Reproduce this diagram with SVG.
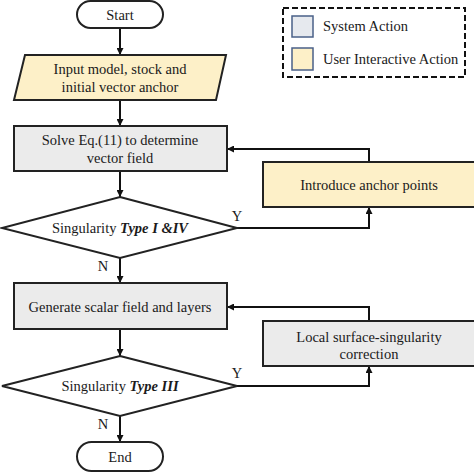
<svg xmlns="http://www.w3.org/2000/svg" width="474" height="474" viewBox="0 0 474 474" font-family="'Liberation Serif', 'DejaVu Serif', serif">
<style>
text{font-family:"Liberation Serif","DejaVu Serif",serif;font-size:14.5px;fill:#1a1a1a}
.c{text-anchor:middle}
.sys{fill:#EBEBEB;stroke:#222;stroke-width:2}
.usr{fill:#FDF0C8;stroke:#222;stroke-width:2}
.term{fill:#fff;stroke:#222;stroke-width:2}
.ln{fill:none;stroke:#111;stroke-width:2}
.b{font-weight:bold;font-style:italic}
</style>
<defs>
<marker id="ah" viewBox="0 0 10 10" refX="10" refY="5" markerWidth="7" markerHeight="7" orient="auto" markerUnits="userSpaceOnUse">
<path d="M0,0 L10,5 L0,10 z" fill="#111"/>
</marker>
</defs>
<rect width="474" height="474" fill="#fff"/>
<g id="connectors">
<path class="ln" d="M120,28 V55" marker-end="url(#ah)"/>
<path class="ln" d="M120,100 V126" marker-end="url(#ah)"/>
<path class="ln" d="M120,171 V197" marker-end="url(#ah)"/>
<path class="ln" d="M237,228 H369 V207" marker-end="url(#ah)"/>
<path class="ln" d="M369,162 V149 H227" marker-end="url(#ah)"/>
<path class="ln" d="M120,258 V283" marker-end="url(#ah)"/>
<path class="ln" d="M120,329 V356" marker-end="url(#ah)"/>
<path class="ln" d="M237,386 H369 V366" marker-end="url(#ah)"/>
<path class="ln" d="M369,321 V307 H227" marker-end="url(#ah)"/>
<path class="ln" d="M120,416 V442" marker-end="url(#ah)"/>
<text x="237" y="221" class="c">Y</text>
<text x="103" y="271" class="c">N</text>
<text x="237" y="378" class="c">Y</text>
<text x="103" y="429" class="c">N</text>
</g>
<g id="start">
<rect class="term" x="77" y="1" width="86" height="27" rx="13.5"/>
<text x="120" y="20" class="c">Start</text>
</g>
<g id="input">
<polygon class="usr" points="25,55 226,55 216,100 14,100"/>
<text x="120" y="74" class="c">Input model, stock and</text>
<text x="120" y="92" class="c">initial vector anchor</text>
</g>
<g id="solve">
<rect class="sys" x="14" y="126" width="213" height="45"/>
<text x="120" y="145" class="c">Solve Eq.(11) to determine</text>
<text x="120" y="163" class="c">vector field</text>
</g>
<g id="sing1">
<polygon class="term" points="120,197 237,228 120,258 2,228"/>
<text x="120" y="233" class="c">Singularity <tspan class="b">Type I &amp;IV</tspan></text>
</g>
<g id="introduce">
<rect class="usr" x="263" y="162" width="213" height="45"/>
<text x="369" y="190" class="c">Introduce anchor points</text>
</g>
<g id="generate">
<rect class="sys" x="14" y="283" width="213" height="46"/>
<text x="120" y="312" class="c">Generate scalar field and layers</text>
</g>
<g id="sing2">
<polygon class="term" points="120,356 237,386 120,416 2,386"/>
<text x="120" y="391" class="c">Singularity <tspan class="b">Type III</tspan></text>
</g>
<g id="local">
<rect class="sys" x="263" y="321" width="213" height="45"/>
<text x="369" y="342" class="c">Local surface-singularity</text>
<text x="369" y="359" class="c">correction</text>
</g>
<g id="end">
<rect class="term" x="77" y="442" width="86" height="29" rx="14.5"/>
<text x="120" y="462" class="c">End</text>
</g>
<g id="legend">
<rect x="283" y="8" width="182" height="69" fill="none" stroke="#111" stroke-width="2" stroke-dasharray="6,3"/>
<rect x="292" y="16" width="21" height="21" fill="#E6E9EE" stroke="#4A6088" stroke-width="1.5"/>
<rect x="292" y="48" width="21" height="22" fill="#FDF0C8" stroke="#4A6088" stroke-width="1.5"/>
<text x="323" y="31">System Action</text>
<text x="323" y="64">User Interactive Action</text>
</g>
</svg>
